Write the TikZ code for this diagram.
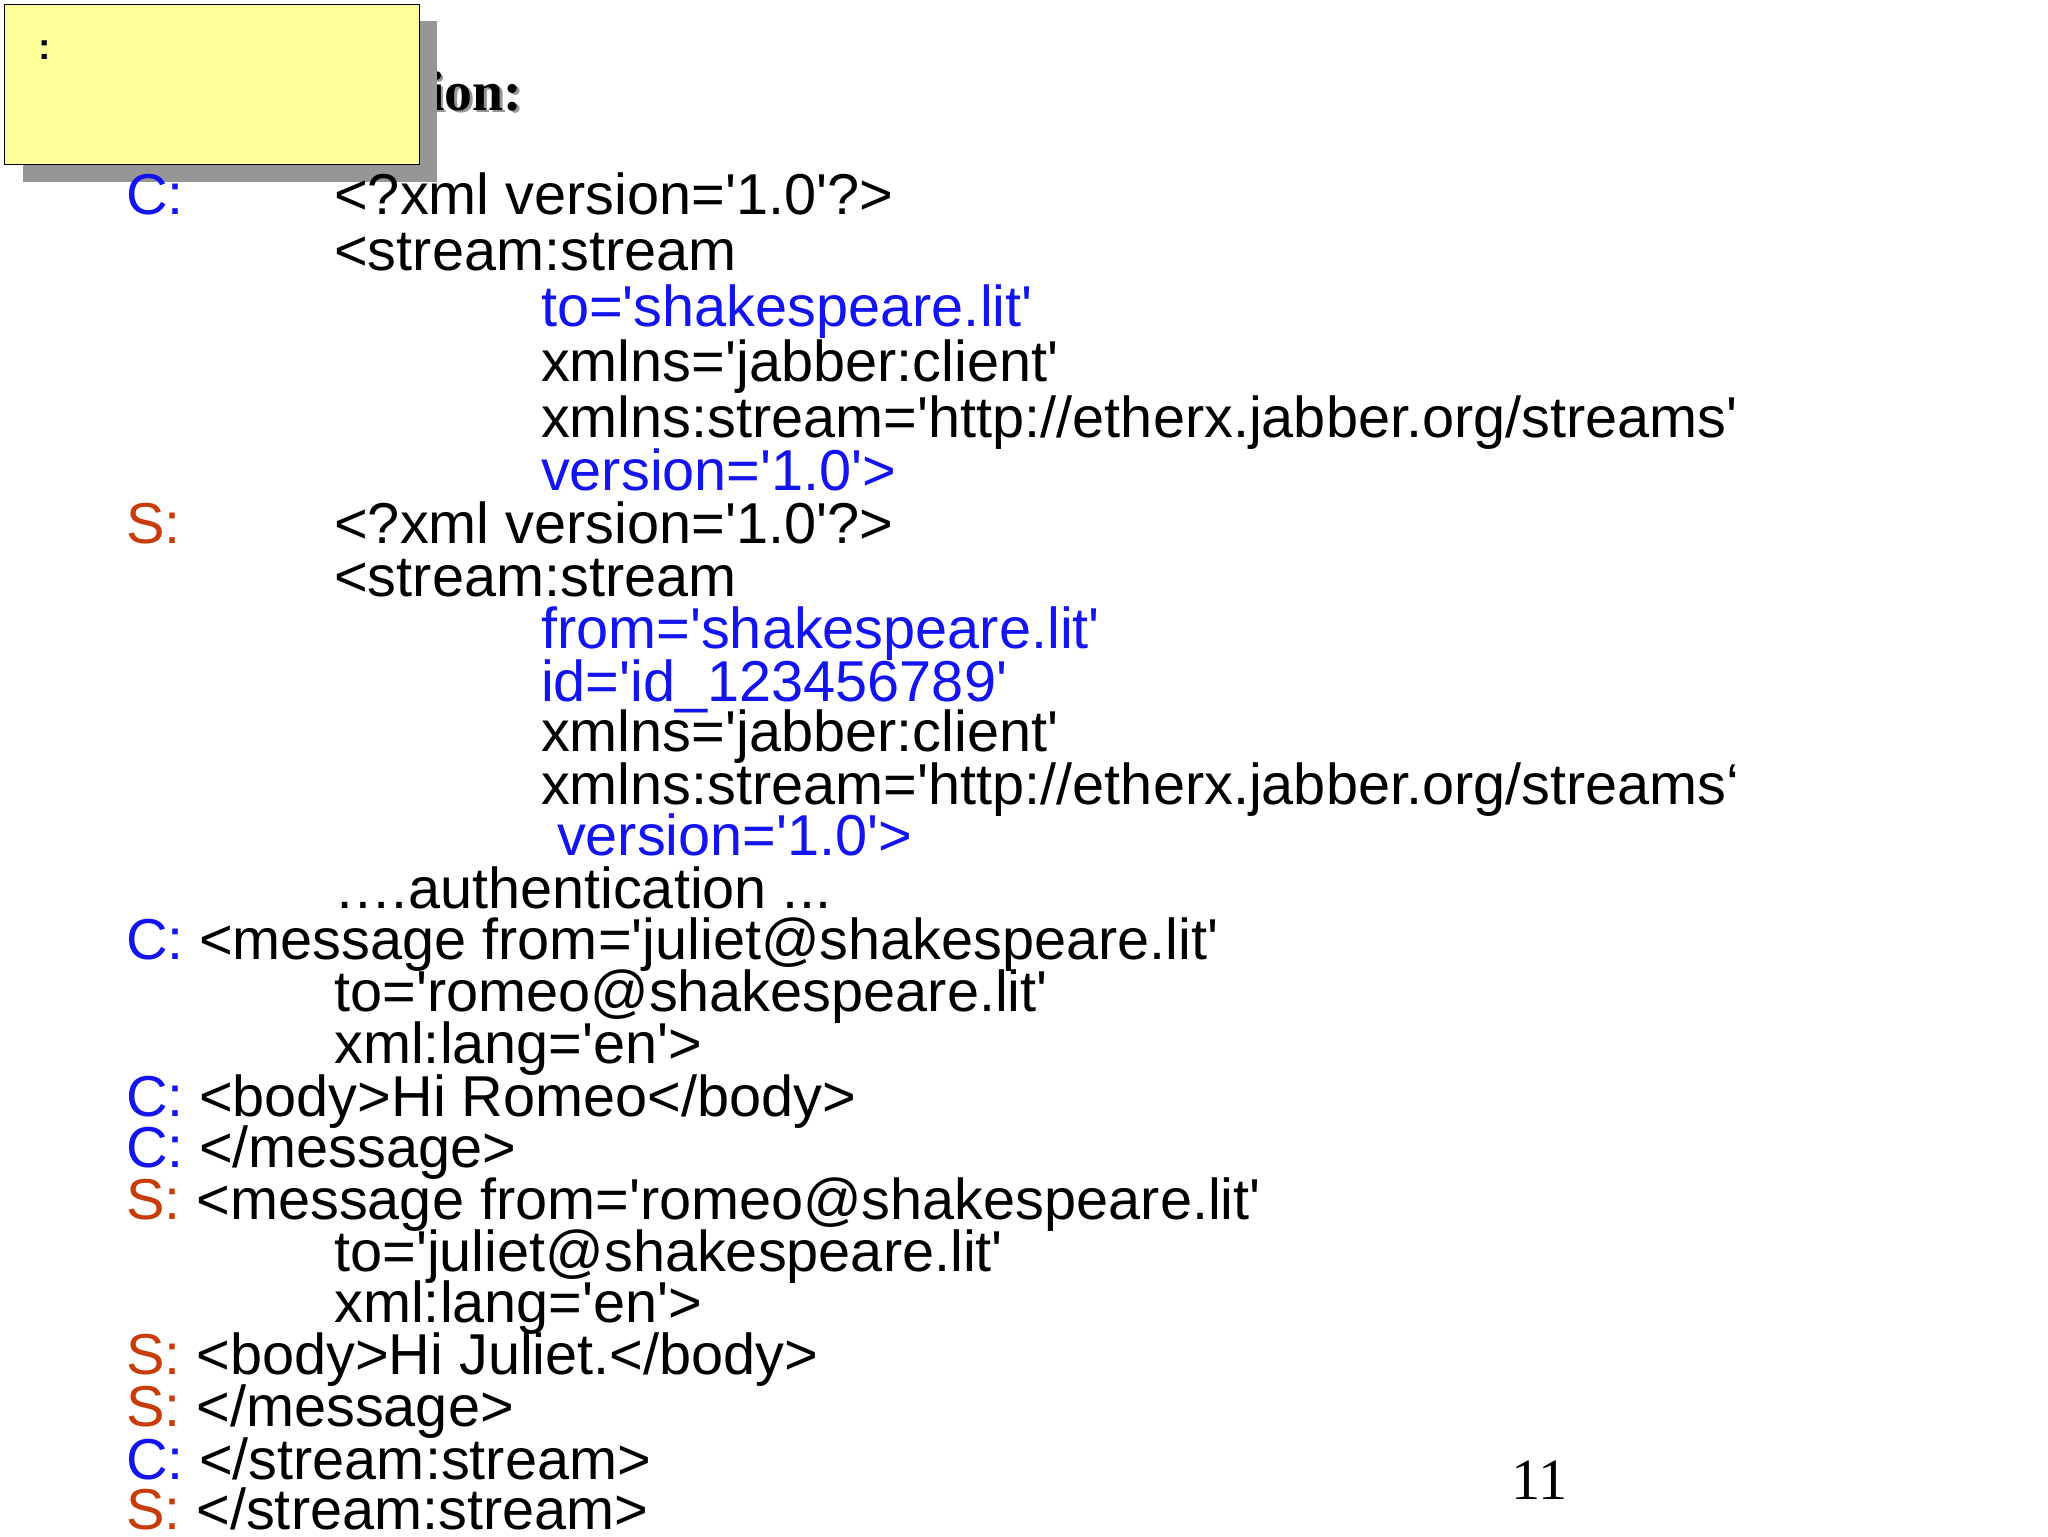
\documentclass[tikz,border=0pt]{standalone}
\usepackage{fontspec}
\setmainfont{Liberation Sans}[Ligatures=TeXOff]
\newfontfamily\serifx{Liberation Serif}[Ligatures=TeXOff]
\definecolor{cblue}{RGB}{20,20,240}
\definecolor{sred}{RGB}{200,60,10}
\definecolor{boxy}{RGB}{255,255,153}
\definecolor{shad}{RGB}{150,150,150}
\begin{document}
\begin{tikzpicture}[x=1pt,y=-1pt,
  t/.style={anchor=base west,inner sep=0pt,font=\fontsize{43.5}{43.5}\selectfont},
  bl/.style={t,text=cblue},
  rd/.style={t,text=sred}]
\useasboundingbox (0,0) rectangle (1545,1159);
\fill[white] (0,0) rectangle (1545,1159);
% title (partly hidden)
\node[anchor=base east,inner sep=0pt,font=\serifx\bfseries\fontsize{42}{42}\selectfont,text=shad] (tsh) at (396,85) {Session:};
\node[anchor=base east,inner sep=0pt,font=\serifx\bfseries\fontsize{42}{42}\selectfont] (title) at (394,83) {Session:};
\fill[shad] (17,16) rectangle (330,137);
\node[draw=black,fill=boxy,minimum width=313pt,minimum height=121pt,anchor=north west,inner sep=0pt] (box) at (3,3) {};
\node[anchor=base west,inner sep=0pt,font=\bfseries\fontsize{28}{28}\selectfont] (colon) at (29,45) {:};
% lines
\node[bl] (c1) at (95,162) {C:};
\node[t] (l1) at (252,162) {<?xml version='1.0'?>};
\node[t] (l2) at (252,204) {<stream:stream};
\node[bl] (l3) at (408,246) {to='shakespeare.lit'};
\node[t] (l4) at (408,288) {xmlns='jabber:client'};
\node[t] (l5) at (408,330) {xmlns:stream='http://etherx.jabber.org/streams'};
\node[bl] (l6) at (408,370) {version='1.0'>};
\node[rd] (s1) at (95,410) {S:};
\node[t] (l7) at (252,410) {<?xml version='1.0'?>};
\node[t] (l8) at (252,450) {<stream:stream};
\node[bl] (l9) at (408,489) {from='shakespeare.lit'};
\node[bl] (l10) at (408,529) {id='id\_123456789'};
\node[t] (l11) at (408,567) {xmlns='jabber:client'};
\node[t] (l12) at (408,607) {xmlns:stream='http://etherx.jabber.org/streams‘};
\node[bl] (l13) at (420,645) {version='1.0'>};
\node[t] (l14) at (252,685) {….authentication ...};
\node[bl] (c2) at (95,724) {C:};
\node[t] (l15) at (150,724) {<message from='juliet@shakespeare.lit'};
\node[t] (l16) at (252,763) {to='romeo@shakespeare.lit'};
\node[t] (l17) at (252,802) {xml:lang='en'>};
\node[bl] (c3) at (95,842) {C:};
\node[t] (l18) at (150,842) {<body>Hi Romeo</body>};
\node[bl] (c4) at (95,881) {C:};
\node[t] (l19) at (150,881) {</message>};
\node[rd] (s2) at (95,920) {S:};
\node[t] (l20) at (148,920) {<message from='romeo@shakespeare.lit'};
\node[t] (l21) at (252,959) {to='juliet@shakespeare.lit'};
\node[t] (l22) at (252,998) {xml:lang='en'>};
\node[rd] (s3) at (95,1037) {S:};
\node[t] (l23) at (148,1037) {<body>Hi Juliet.</body>};
\node[rd] (s4) at (95,1076) {S:};
\node[t] (l24) at (148,1076) {</message>};
\node[bl] (c5) at (95,1116) {C:};
\node[t] (l25) at (150,1116) {</stream:stream>};
\node[rd] (s5) at (95,1154) {S:};
\node[t] (l26) at (148,1154) {</stream:stream>};
\node[anchor=base west,inner sep=0pt,font=\serifx\fontsize{44}{44}\selectfont] (pg) at (1140,1131) {11};
\end{tikzpicture}
\end{document}
